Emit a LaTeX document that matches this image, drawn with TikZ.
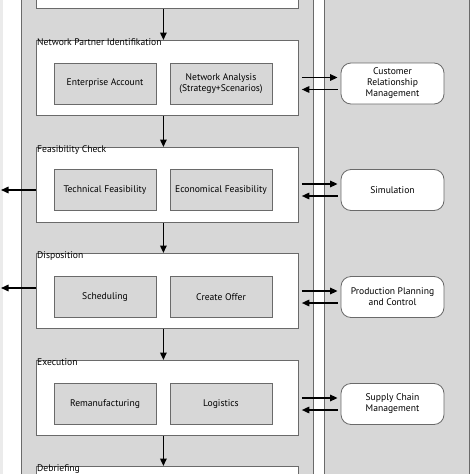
\documentclass[tikz,border=0pt]{standalone}
\usepackage{fontspec}
\setmainfont{PT Sans}
\usetikzlibrary{arrows.meta,calc}
\definecolor{pgray}{HTML}{D7D7D7}
\definecolor{bgray}{HTML}{6A6A6A}
\definecolor{strip}{HTML}{EBEBEB}
\tikzset{
  panel/.style={draw=bgray,line width=0.8pt,fill=pgray},
  frame/.style={draw=bgray,line width=0.8pt,fill=white,minimum width=262pt,minimum height=75pt,inner sep=0pt,anchor=north west},
  inbox/.style={draw=bgray,line width=0.8pt,fill=pgray,minimum width=102pt,minimum height=41pt,inner sep=1pt,align=center,font=\fontsize{9.6}{11}\selectfont},
  rbox/.style={draw=bgray,line width=0.8pt,fill=white,rounded corners=10pt,minimum width=103pt,minimum height=41pt,inner sep=1pt,align=center,font=\fontsize{9.6}{11}\selectfont},
  flabel/.style={anchor=north west,inner sep=0pt,font=\fontsize{9.6}{11}\selectfont},
  arr/.style={line width=1.5pt,-{Triangle[length=7.5pt,width=6.5pt]}}
}
\begin{document}
\begin{tikzpicture}[x=1pt,y=-1pt]
\useasboundingbox (0,0) rectangle (474,474);
\clip (0,0) rectangle (474,474);
\fill[strip] (0,0) rectangle (2.5,474);
\draw[panel] (21,-5) rectangle (313,480);
\draw[panel] (324,-5) rectangle (469,480);
% frames
\node[frame] (f0) at (36,-67) {};
\node[frame] (f1) at (36,40) {};
\node[frame] (f2) at (36,147) {};
\node[frame] (f3) at (36,253) {};
\node[frame] (f4) at (36,360) {};
\node[frame] (f5) at (36,466) {};
\node[flabel] at ([shift={(1,-1.2)}]f1.north west) {Network Partner Identifikation};
\node[flabel] at ([shift={(1,-1.2)}]f2.north west) {Feasibility Check};
\node[flabel] at ([shift={(1,-1.2)}]f3.north west) {Disposition};
\node[flabel] at ([shift={(1,-1.2)}]f4.north west) {Execution};
\node[flabel] at ([shift={(1,-1.2)}]f5.north west) {Debriefing};
% inner boxes
\node[inbox] (a1) at (105,83.5) {Enterprise Account};
\node[inbox] (b1) at (221,83.5) {Network Analysis\\(Strategy+Scenarios)};
\node[inbox] (a2) at (105,190) {Technical Feasibility};
\node[inbox] (b2) at (221,190) {Economical Feasibility};
\node[inbox] (a3) at (105,297) {Scheduling};
\node[inbox] (b3) at (221,297) {Create Offer};
\node[inbox] (a4) at (105,404) {Remanufacturing};
\node[inbox] (b4) at (221,404) {Logistics};
% rounded boxes
\node[rbox] (r1) at (392.5,83.5) {Customer\\Relationship\\Management};
\node[rbox] (r2) at (392.5,190) {Simulation};
\node[rbox] (r3) at (392.5,297) {Production Planning\\and Control};
\node[rbox] (r4) at (392.5,404) {Supply Chain\\Management};
% vertical arrows
\foreach \i/\j in {f0/f1,f1/f2,f2/f3,f3/f4,f4/f5}{
  \draw[arr] ([xshift=-4pt]\i.south) -- ([xshift=-4pt]\j.north);
}
% side arrows
\foreach \f/\r in {f1/r1,f2/r2,f3/r3,f4/r4}{
  \draw[arr] ($(\r.west -| \f.east)+(3,-6)$) -- ($(\r.west)+(-3,-6)$);
  \draw[arr] ($(\r.west)+(-3,6)$) -- ($(\r.west -| \f.east)+(3,6)$);
}
% left arrows
\coordinate (l2) at (1,190);
\coordinate (l3) at (1,288);
\draw[arr] (l2 -| f2.west) -- (l2);
\draw[arr] (l3 -| f3.west) -- (l3);
\end{tikzpicture}
\end{document}
